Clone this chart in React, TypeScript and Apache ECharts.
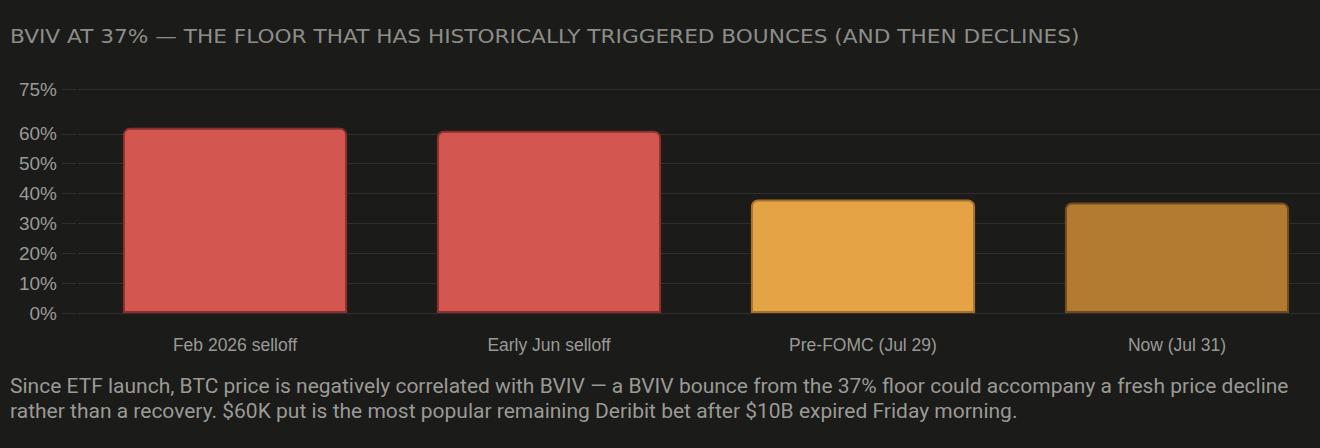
import React, { useEffect, useRef } from "react";
import * as echarts from "echarts";

const categories = ["Feb 2026 selloff", "Early Jun selloff", "Pre-FOMC (Jul 29)", "Now (Jul 31)"];
const values = [62, 61, 38, 37];
const yTicks = [0, 10, 20, 30, 40, 50, 60, 75];
const fillColors = ["#d35650", "#d35650", "#e4a445", "#b37a32"];
const borderColors = ["#8a2f2b", "#8a2f2b", "#a8702a", "#6f4a1e"];
const titleText = "BVIV AT 37% \u2014 THE FLOOR THAT HAS HISTORICALLY TRIGGERED BOUNCES (AND THEN DECLINES)";
const captionLines = [
  "Since ETF launch, BTC price is negatively correlated with BVIV \u2014 a BVIV bounce from the 37% floor could accompany a fresh price decline",
  "rather than a recovery. $60K put is the most popular remaining Deribit bet after $10B expired Friday morning.",
];

export default function App() {
  const ref = useRef<HTMLDivElement>(null);
  useEffect(() => {
    document.body.style.margin = "0";
    document.body.style.background = "#1b1b1a";
    const chart = echarts.init(ref.current!, undefined, { renderer: "svg" });
    chart.setOption({
      animation: false,
      backgroundColor: "#1b1b1a",
      grid: { left: 78, top: 89, right: -14, bottom: 135, containLabel: false, outerBoundsMode: "none" },
      xAxis: {
        type: "category",
        data: categories,
        axisLine: { show: true, lineStyle: { color: "#2f2f2d", width: 1 } },
        axisTick: { show: false },
        axisLabel: { color: "#9a9a96", fontFamily: "Liberation Sans", fontSize: 17.5, margin: 23 },
      },
      yAxis: {
        type: "value",
        min: 0,
        max: 75,
        interval: 5,
        offset: 2,
        axisLine: { show: false },
        axisTick: { show: true, length: 14, customValues: yTicks, lineStyle: { color: "#2f2f2d" } },
        axisLabel: {
          customValues: yTicks,
          color: "#9a9a96",
          fontFamily: "Liberation Sans",
          fontSize: 19,
          margin: 19,
          formatter: (v: number) => v + "%",
        },
        splitLine: { show: true, lineStyle: { color: "#2f2f2d", width: 1 } },
      },
      series: [
        {
          type: "bar",
          data: values.map((v, i) => ({
            value: v,
            itemStyle: { color: fillColors[i], borderColor: borderColors[i], borderWidth: 2, borderRadius: [6, 6, 0, 0] },
          })),
          barCategoryGap: "28.6%",
        },
      ],
      graphic: [
        {
          type: "text",
          x: 10,
          y: 26,
          scaleX: 1.083,
          style: {
            text: titleText,
            fill: "#8d8d88",
            font: "20px 'DejaVu Sans'",
          },
        },
        {
          type: "text",
          left: 10,
          top: 373,
          style: {
            text: captionLines.join("\n"),
            fill: "#9a9a95",
            font: "21px Roboto",
            lineHeight: 25,
          },
        },
      ],
    });
    return () => chart.dispose();
  }, []);
  return <div ref={ref} style={{ width: 1320, height: 448 }} />;
}
